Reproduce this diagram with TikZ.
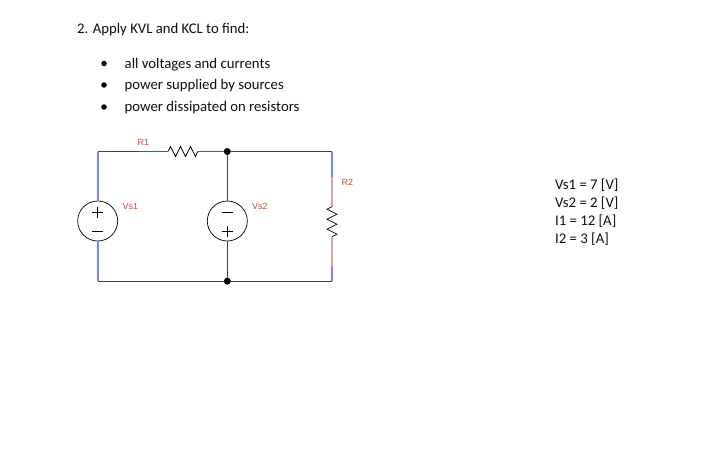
\documentclass[tikz,border=0pt]{standalone}
\usepackage{fontspec}
\usetikzlibrary{calc}
\setmainfont{Carlito}
\newfontfamily\labelfont{Liberation Sans}
\definecolor{wireblue}{RGB}{25,50,235}
\definecolor{softblue}{RGB}{120,130,250}
\definecolor{wirered}{RGB}{190,50,50}
\definecolor{softred}{RGB}{228,160,160}
\definecolor{lblred}{RGB}{205,75,60}
\definecolor{txt}{RGB}{15,15,15}
\tikzset{
  wire/.style={draw=wireblue,line width=1.3pt},
  softwire/.style={draw=softblue,line width=1.8pt},
  redwire/.style={draw=wirered,line width=1.3pt},
  softred wire/.style={draw=softred,line width=1.8pt},
  comp/.style={draw=black,line width=0.7pt,line join=miter},
  source/.style={circle,draw=black,line width=0.7pt,minimum size=40pt,inner sep=0pt,fill=white},
  dot/.style={circle,fill=black,minimum size=7pt,inner sep=0pt},
  txtline/.style={anchor=base west,inner sep=0pt,font=\fontsize{14.75}{16}\selectfont,text=txt},
  bullet/.style={circle,fill=black,minimum size=5.5pt,inner sep=0pt},
  clabel/.style={anchor=base west,inner sep=0pt,font=\labelfont\fontsize{9}{10}\selectfont,text=lblred},
}
\begin{document}
\begin{tikzpicture}[x=1pt,y=-1pt]
\useasboundingbox (0,0) rectangle (706,460);
% coordinates
\coordinate (tl) at (97.7,151.5);
\coordinate (bl) at (97.7,281.2);
\coordinate (tr) at (332,151.5);
\coordinate (br) at (332,281.2);
\coordinate (r1a) at (138.5,151.5);
\coordinate (r1b) at (168,151.5);
\coordinate (r1c) at (197.7,151.5);
\coordinate (r2o) at (332,177);
\coordinate (r2a) at (332,206.7);
\coordinate (r2b) at (332,236.7);
\coordinate (r2c) at (332,266.7);
\node[dot] (jt) at (227.3,151.5) {};
\node[dot] (jb) at (227.3,281.2) {};
\node[source] (vs1) at (97.7,221) {};
\node[source] (vs2) at (227.3,221) {};
% wires
\draw[softwire] (tl) -- (vs1);
\draw[softwire] (vs1) -- (bl);
\draw[wire] (tl) -- (r1a);
\draw[wire] (bl) -- (jb);
\draw[redwire] (r1a) -- (r1b);
\draw[redwire] (r1c) -- (jt);
\draw[wire] (jt) -- (vs2);
\draw[wire] (vs2) -- (jb);
\draw[wire] (jt) -- (tr);
\draw[wire] (jb) -- (br);
\draw[softwire] (tr) -- (r2o);
\draw[softred wire] (r2o) -- (r2a);
\draw[softred wire] (r2b) -- (r2c);
\draw[softwire] (r2c) -- (br);
% resistors
\draw[comp] (r1b) -- ++(2.5,-5) -- ++(5,10) -- ++(5,-10) -- ++(5,10) -- ++(5,-10) -- ++(5,10) -- (r1c);
\draw[comp] (r2a) -- ++(-5,2.5) -- ++(10,5) -- ++(-10,5) -- ++(10,5) -- ++(-10,5) -- ++(10,5) -- (r2b);
% polarity marks
\draw[comp] ($(vs1.center)+(-5.5,-9)$) -- ++(11,0) ($(vs1.center)+(0,-14.5)$) -- ++(0,11);
\draw[comp] ($(vs1.center)+(-5.5,10)$) -- ++(11,0);
\draw[comp] ($(vs2.center)+(-5.5,-9)$) -- ++(11,0);
\draw[comp] ($(vs2.center)+(-5.5,10)$) -- ++(11,0) ($(vs2.center)+(0,4.5)$) -- ++(0,11);
% component labels
\node[clabel] (lr1) at (137.5,145.5) {R1};
\node[clabel] (lr2) at (341.5,185) {R2};
\node[clabel] (lv1) at (122.5,209) {Vs1};
\node[clabel] (lv2) at (252,209) {Vs2};
% text
\node[txtline] (t0) at (77,34) {2. Apply KVL and KCL to find:};
\node[bullet] (b1) at (104,63.5) {};
\node[bullet] (b2) at (104,85) {};
\node[bullet] (b3) at (104,107) {};
\node[txtline] (t1) at (124.5,68) {all voltages and currents};
\node[txtline] (t2) at (124.5,89.5) {power supplied by sources};
\node[txtline] (t3) at (124.5,111) {power dissipated on resistors};
\node[txtline] (d1) at (555,189) {Vs1 = 7 [V]};
\node[txtline] (d2) at (555,207) {Vs2 = 2 [V]};
\node[txtline] (d3) at (555,225) {I1 = 12 [A]};
\node[txtline] (d4) at (555,243) {I2 = 3 [A]};
\end{tikzpicture}
\end{document}
